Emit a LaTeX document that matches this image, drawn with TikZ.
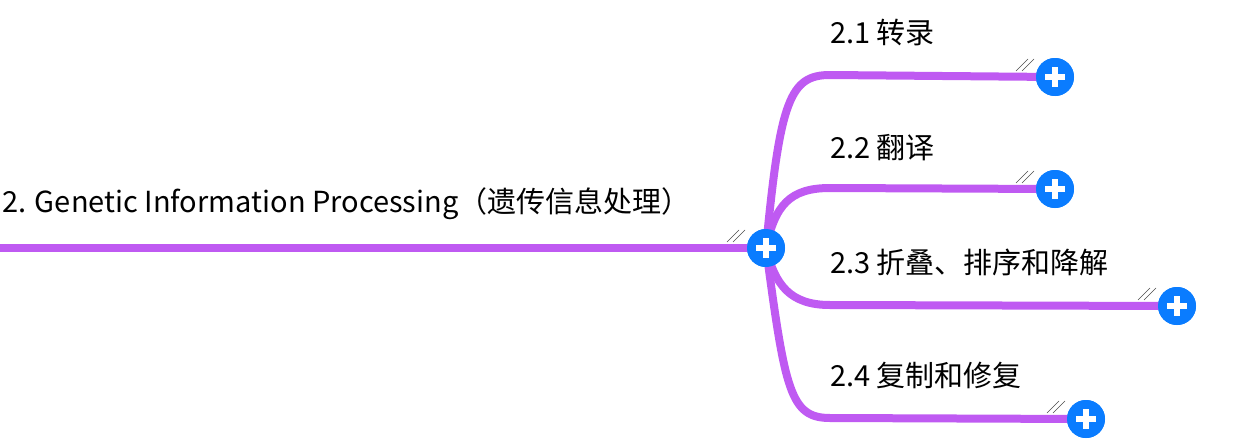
\documentclass[tikz,border=0pt]{standalone}
\usepackage{fontspec}
\setmainfont{Noto Sans CJK SC}
\begin{document}
\begin{tikzpicture}[x=1pt,y=-1pt,
  br/.style={draw=brc,line width=8pt,line cap=round},
  plus/.style={circle,fill=pbl,minimum size=38pt,inner sep=0pt},
  lab/.style={anchor=west,inner sep=0pt,font=\fontsize{29}{33}\selectfont},
  hatch/.style={draw=black!70,line width=0.6pt}]
\definecolor{brc}{HTML}{BF5AF2}
\definecolor{pbl}{HTML}{0A7CFF}
\useasboundingbox (0,0) rectangle (1250,447);
\coordinate (s) at (-10,248);
\node[plus] (c0) at (766,248) {};
\node[plus] (c1) at (1055,77) {};
\node[plus] (c2) at (1055,189) {};
\node[plus] (c3) at (1177,306) {};
\node[plus] (c4) at (1086,419) {};
\draw[br] (s) -- (c0.center);
\draw[br] (c0.center) .. controls (780,100) and (790,75) .. (830,75) -- (c1.center);
\draw[br] (c0.center) .. controls (775,205) and (790,188) .. (830,188) -- (c2.center);
\draw[br] (c0.center) .. controls (775,285) and (790,305) .. (830,305) -- (c3.center);
\draw[br] (c0.center) .. controls (785,390) and (790,418) .. (830,418) -- (c4.center);
\foreach \n in {c0,c1,c2,c3,c4}{
  \node[plus] at (\n) {};
  \fill[white] ([xshift=-10pt,yshift=-3pt]\n.center) rectangle ([xshift=10pt,yshift=3pt]\n.center);
  \fill[white] ([xshift=-3pt,yshift=-10pt]\n.center) rectangle ([xshift=3pt,yshift=10pt]\n.center);
  \draw[hatch] ([xshift=-39pt,yshift=6pt]\n.center) -- ([xshift=-27pt,yshift=18pt]\n.center);
  \draw[hatch] ([xshift=-33pt,yshift=6pt]\n.center) -- ([xshift=-21pt,yshift=18pt]\n.center);
}
\node[lab] (t0) at (2,204) {2. Genetic Information Processing（遗传信息处理）};
\node[lab] (t1) at (830,33) {2.1 转录};
\node[lab] (t2) at (830,148) {2.2 翻译};
\node[lab] (t3) at (830,262) {2.3 折叠、排序和降解};
\node[lab] (t4) at (830,375) {2.4 复制和修复};
\end{tikzpicture}
\end{document}
